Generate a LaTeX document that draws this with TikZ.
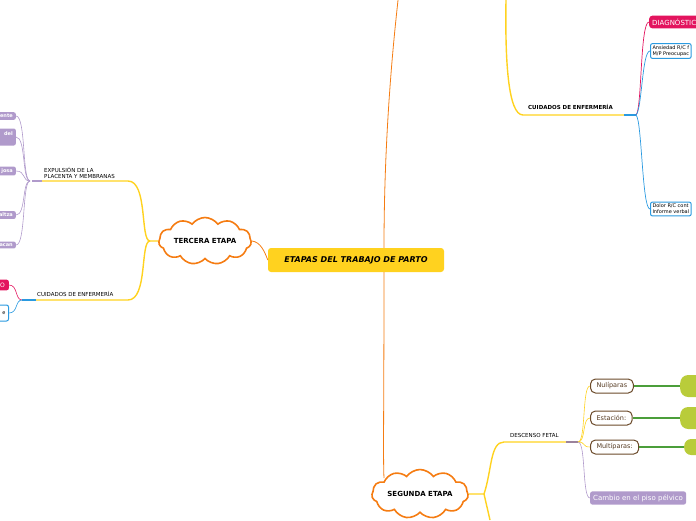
\documentclass[tikz,border=0pt]{standalone}
\usepackage{fontspec}
\setmainfont{DejaVu Sans}
\usetikzlibrary{shapes.symbols}
\definecolor{yel}{HTML}{FFD21F}
\definecolor{org}{HTML}{F57C12}
\definecolor{pur}{HTML}{B09ACB}
\definecolor{pnk}{HTML}{E3145E}
\definecolor{blu}{HTML}{2A9AE0}
\definecolor{brn}{HTML}{6B4A2A}
\definecolor{grn}{HTML}{4B9E3A}
\definecolor{lim}{HTML}{B9CC3A}
\tikzset{
 lbl/.style={font=\fontsize{5.5}{6.5}\selectfont,align=left,inner sep=1pt},
 pbox/.style={fill=pur,text=white,rounded corners=2pt,font=\fontsize{5}{6}\selectfont\bfseries,inner sep=2pt,align=right,minimum width=36,text width=30},
 bbox/.style={draw=blu,line width=1pt,fill=white,rounded corners=2pt,font=\fontsize{5}{6}\selectfont,inner sep=2pt,align=left},
 brbox/.style={draw=brn,line width=1pt,fill=white,rounded corners=5pt,font=\fontsize{6.5}{7.5}\selectfont,text=brn!80!black,minimum height=14pt,inner xsep=6pt},
 cl/.style={cloud,cloud puffs=11,cloud puff arc=110,draw=org,line width=1.6pt,fill=white,aspect=2.6,font=\fontsize{7}{8}\selectfont\bfseries,inner sep=1pt},
 yb/.style={yel,line width=1.4pt},
}
\begin{document}
\begin{tikzpicture}[x=1pt,y=-1pt]
\useasboundingbox (0,0) rectangle (696,520);
\clip (0,0) rectangle (696,520);
% central
\node[fill=yel,rounded corners=3pt,minimum width=176,minimum height=24,font=\fontsize{8}{9}\selectfont\bfseries\itshape] (c) at (356,260) {ETAPAS DEL TRABAJO DE PARTO};
\coordinate (top) at (398,0);
\coordinate (bot) at (384,478);
\draw[org,line width=0.8pt] (c.north) ++(28,0) coordinate (cn) .. controls (384,120) and (396,20) .. (top);
\draw[org,line width=0.8pt] (cn|-c.south) .. controls (384,400) and (383,460) .. (bot);
% tercera
\node[cl,minimum width=80,minimum height=34] (t3) at (205,241) {TERCERA ETAPA};
\draw[org,line width=0.8pt] (t3.east) .. controls (260,242) and (264,250) .. (c.west);
% segunda
\node[cl,minimum width=96,minimum height=36] (t2) at (420,494) {SEGUNDA ETAPA};
% left branches
\coordinate (lj) at (150,241);
\draw[yb] (t3.west) -- (lj);
\node[lbl,anchor=south west] (exp) at (43,180) {EXPULSIÓN DE LA\\PLACENTA Y MEMBRANAS};
\node[lbl,anchor=south west] (cui) at (36,298) {CUIDADOS DE ENFERMERÍA};
\coordinate (e1) at (128,181); \coordinate (e0) at (42,181);
\coordinate (c1) at (128,300); \coordinate (c0) at (36,300);
\draw[yb] (lj) .. controls (140,241) and (148,181) .. (e1) -- (e0);
\draw[yb] (lj) .. controls (140,241) and (148,300) .. (c1) -- (c0);
\draw[pur,line width=1.4pt] (e0) -- (32,181);
\coordinate (ej) at (30,181);
\node[pbox,anchor=east] (p1) at (16,116) {ente};
\node[pbox,anchor=east,minimum height=17] (p2) at (16,137) {del\\ \phantom{x}};
\node[pbox,anchor=east] (p3) at (16,171) {josa};
\node[pbox,anchor=east] (p4) at (16,215) {altza};
\node[pbox,anchor=east] (p5) at (16,245) {acan};
\foreach \p in {p1,p2,p3,p4,p5}
 \draw[pur,line width=0.6pt] (ej) .. controls (22,181) and (26,0|-\p.east) .. (\p.east);
\node[fill=pnk,text=white,rounded corners=2pt,anchor=east,font=\fontsize{6}{7}\selectfont,inner sep=3pt,minimum width=30,align=right,text width=22] (q1) at (9,285) {O};
\node[bbox,anchor=east,minimum height=16,minimum width=30,align=right,text width=24] (q2) at (9,313) {e};
\coordinate (cj) at (22,300);
\draw[blu,line width=1.4pt] (c0) -- (cj);
\draw[pnk,line width=0.6pt] (cj) .. controls (15,300) and (18,285) .. (q1.east);
\draw[blu,line width=0.6pt] (cj) .. controls (15,300) and (18,313) .. (q2.east);
% right top
\node[lbl,font=\fontsize{5.5}{6.5}\selectfont\bfseries,anchor=south west] (cr) at (527,111) {CUIDADOS DE ENFERMERÍA};
\coordinate (r0) at (523,115); \coordinate (r1) at (624,115);
\draw[yb] (top) ++(108,0) .. controls (505,60) and (508,115) .. (r0) -- (r1);
\draw[blu,line width=1.4pt] (r1) -- (636,115);
\coordinate (rj) at (636,115);
\node[fill=pnk,text=white,rounded corners=3pt,anchor=west,font=\fontsize{7}{8}\selectfont,inner sep=3pt] (d1) at (649,22) {DIAGNÓSTICO};
\node[bbox,anchor=west] (d2) at (650,51) {Ansiedad R/C f\\M/P Preocupac};
\node[bbox,anchor=west] (d3) at (650,209) {Dolor R/C cont\\Informe verbal};
\draw[pnk,line width=0.7pt] (rj) .. controls (642,110) and (640,22) .. (d1.west);
\draw[blu,line width=0.7pt] (rj) .. controls (642,110) and (642,51) .. (d2.west);
\draw[blu,line width=0.7pt] (rj) .. controls (642,120) and (642,209) .. (d3.west);
% bottom right
\coordinate (sj) at (484,494);
\draw[yb] (t2.east) -- (sj);
\draw[yb] (sj) -- (490,520);
\node[lbl,anchor=south west] (df) at (509,439) {DESCENSO FETAL};
\coordinate (f0) at (504,442); \coordinate (f1) at (566,442);
\draw[yb] (sj) .. controls (492,470) and (490,442) .. (f0) -- (f1);
\draw[pur!70!brn,line width=1.4pt] (f1) -- (578,442);
\coordinate (fj) at (578,442);
\node[brbox,anchor=west] (n1) at (590,386) {Nulíparas};
\node[brbox,anchor=west] (n2) at (590,418) {Estación:};
\node[brbox,anchor=west] (n3) at (590,447) {Multíparas:};
\node[fill=pur,text=white,rounded corners=2pt,anchor=west,font=\fontsize{7}{8}\selectfont,inner sep=3pt] (n4) at (590,498) {Cambio en el piso pélvico};
\foreach \n in {n1,n2,n3}
 \draw[yel,line width=0.6pt] (fj) .. controls (586,442) and (582,0|-\n.west) .. (\n.west);
\draw[pur,line width=0.6pt] (fj) .. controls (586,442) and (582,498) .. (n4.west);
\node[fill=lim,rounded corners=8pt,minimum width=40,minimum height=22,anchor=west] (g1) at (680,386) {};
\node[fill=lim,rounded corners=8pt,minimum width=40,minimum height=22,anchor=west] (g2) at (680,418) {};
\node[fill=lim,rounded corners=7pt,minimum width=40,minimum height=16,anchor=west] (g3) at (684,447) {};
\draw[grn,line width=2.5pt] (n1.east) -- (g1.west);
\draw[grn,line width=2.5pt] (n2.east) -- (g2.west);
\draw[grn,line width=2.5pt] (n3.east) -- (g3.west);
\end{tikzpicture}
\end{document}
